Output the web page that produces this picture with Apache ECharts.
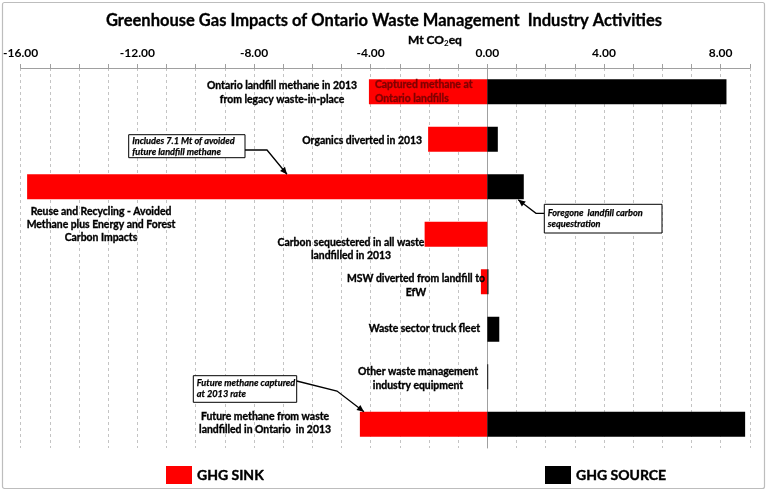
<!DOCTYPE html>
<html><head><meta charset="utf-8">
<script src="https://cdn.jsdelivr.net/npm/echarts@6/dist/echarts.min.js"></script>
<style>html,body{margin:0;padding:0;background:#fff}#c{width:768px;height:492px}</style>
</head><body><div id="c"></div>
<script>
// ---- data ----
const categories = [
  'Ontario landfill methane in 2013\nfrom legacy waste-in-place',
  'Organics diverted in 2013',
  'Reuse and Recycling - Avoided\nMethane plus Energy and Forest\nCarbon Impacts',
  'Carbon sequestered in all waste\nlandfilled in 2013',
  'MSW diverted from landfill to\nEfW',
  'Waste sector truck fleet',
  'Other waste management\nindustry equipment',
  'Future methane from waste\nlandfilled in Ontario  in 2013'
];
const sinkValues   = [-4.06, -2.03, -15.78, -2.15, -0.22, 0, 0, -4.37];
const sourceValues = [8.20, 0.36, 1.25, 0, 0.04, 0.41, 0.03, 8.84];
const majorTicks   = [-16, -12, -8, -4, 0, 4, 8];
const sinkName = 'GHG SINK';
const sourceName = 'GHG SOURCE';
const titleText = 'Greenhouse Gas Impacts of Ontario Waste Management  Industry Activities';
const capturedLabel = 'Captured methane at\nOntario landfills';
const callouts = [
  'Includes 7.1 Mt of avoided\nfuture landfill methane',
  'Foregone  landfill carbon\nsequestration',
  'Future methane captured\nat 2013 rate'
];

// ---- layout (annotation placement) ----
const labelLayout = [
  {x: 282, dy: 1, align: 'center'},
  {x: 422, dy: 1, align: 'right'},
  {x: 101, dy: 38, align: 'center'},
  {x: 351, dy: 15, align: 'center'},
  {x: 416, dy: 4, align: 'center'},
  {x: 480, dy: -1, align: 'right'},
  {x: 418, dy: 2, align: 'center'},
  {x: 265, dy: -1, align: 'center'}
];
const FONT = 'Lato, "Noto Sans", sans-serif';
const legendText = {fontFamily: FONT, fontWeight: 'bold', fontSize: 14, color: '#000',
  textBorderColor: '#000', textBorderWidth: 0.4};

const chart = echarts.init(document.getElementById('c'), null, {renderer: 'canvas'});
chart.setOption({
  animation: false,
  backgroundColor: '#ffffff',
  title: {
    text: titleText, left: 'center', top: 7,
    textStyle: {fontFamily: FONT, fontWeight: 'bold', fontSize: 16.5, color: '#000',
      textBorderColor: '#000', textBorderWidth: 0.3}
  },
  legend: [
    {data: [sinkName], left: 161, top: 461, itemWidth: 26, itemHeight: 18, icon: 'rect',
     selectedMode: false, itemGap: 5, textStyle: legendText},
    {data: [sourceName], left: 540, top: 461, itemWidth: 26, itemHeight: 18, icon: 'rect',
     selectedMode: false, itemGap: 5, textStyle: legendText}
  ],
  grid: {left: 20.7, right: 18.2, top: 68, bottom: 44, containLabel: false},
  xAxis: {
    type: 'value', position: 'top', min: -16, max: 9, interval: 1,
    axisLine: {show: true, lineStyle: {color: '#a0a0a0', width: 1}},
    axisTick: {show: true, length: 4, lineStyle: {color: '#a0a0a0'}},
    axisLabel: {
      margin: 9, fontFamily: FONT, fontWeight: 'bold', fontSize: 12, color: '#000',
      formatter: v => majorTicks.indexOf(v) >= 0 ? v.toFixed(2) : ''
    },
    splitLine: {show: true, lineStyle: {color: '#c4c4c4', type: [3, 3], width: 1}}
  },
  yAxis: {
    type: 'category', data: categories, inverse: true,
    axisLine: {show: true, onZero: true, lineStyle: {color: '#a0a0a0', width: 1}},
    axisTick: {show: false}, axisLabel: {show: false}, splitLine: {show: false}
  },
  series: [
    {name: sinkName, type: 'bar', stack: 'total', data: sinkValues, barWidth: 25,
     itemStyle: {color: '#ff0000'}, silent: true},
    {name: sourceName, type: 'bar', stack: 'total', data: sourceValues, barWidth: 25,
     itemStyle: {color: '#000000'}, silent: true}
  ]
});

// ---- annotations ----
function yOf(i) { return chart.convertToPixel({yAxisIndex: 0}, categories[i]); }
function xOf(v) { return chart.convertToPixel({xAxisIndex: 0}, v); }

const g = [];
// outer frame
g.push({type: 'rect', shape: {x: 2.5, y: 2.5, width: 762, height: 486, r: 2},
  style: {fill: 'none', stroke: '#bdbdbd', lineWidth: 1.2}, z: 100});
// axis unit
g.push({type: 'text', x: 408, y: 40, style: {
  text: '{a|Mt CO}{s|2}{a|eq}', verticalAlign: 'middle',
  rich: {a: {fontFamily: FONT, fontWeight: 'bold', fontSize: 12, fill: '#000', stroke: '#000', lineWidth: 0.35},
         s: {fontFamily: FONT, fontWeight: 'bold', fontSize: 8, fill: '#000', padding: [7, 0, 0, 0]}}
}, z: 100});
// category labels
categories.forEach((c, i) => {
  const L = labelLayout[i];
  g.push({type: 'text', x: L.x, y: yOf(i) + L.dy, style: {
    text: c, align: L.align, verticalAlign: 'middle',
    fontFamily: FONT, fontWeight: 'bold', fontSize: 10.4, lineHeight: 13.3, fill: '#000',
    stroke: '#000', lineWidth: 0.35
  }, z: 100});
});
// inside label on captured methane bar
g.push({type: 'text', x: xOf(sinkValues[0]) + 6, y: yOf(0), style: {
  text: capturedLabel, align: 'left', verticalAlign: 'middle',
  fontFamily: FONT, fontWeight: 'bold', fontSize: 10.4, lineHeight: 13.3, fill: '#800000',
  stroke: '#800000', lineWidth: 0.35
}, z: 100});

function callout(x, y, w, h, text) {
  g.push({type: 'rect', shape: {x: x, y: y, width: w, height: h},
    style: {fill: '#fff', stroke: '#000', lineWidth: 1}, z: 110});
  g.push({type: 'text', x: x + 3.5, y: y + h / 2, style: {
    text: text, align: 'left', verticalAlign: 'middle',
    fontFamily: FONT, fontStyle: 'italic', fontWeight: 'bold', fontSize: 9.2, lineHeight: 11, fill: '#000',
    stroke: '#000', lineWidth: 0.25
  }, z: 111});
}
function arrow(pts) {
  g.push({type: 'polyline', shape: {points: pts},
    style: {stroke: '#000', lineWidth: 1.3, fill: 'none'}, z: 105});
  const a = pts[pts.length - 2], b = pts[pts.length - 1];
  const dx = b[0] - a[0], dy = b[1] - a[1], L = Math.hypot(dx, dy);
  const ux = dx / L, uy = dy / L, hl = 7, hw = 3.2;
  const bx = b[0] - ux * hl, by = b[1] - uy * hl;
  g.push({type: 'polygon', shape: {points: [b, [bx - uy * hw, by + ux * hw], [bx + uy * hw, by - ux * hw]]},
    style: {fill: '#000'}, z: 106});
}
// callout 1 -> reuse & recycling bar top
const r2top = yOf(2) - 12.5;
arrow([[245, 150], [267, 150], [xOf(-6.87), r2top]]);
callout(128.7, 134.7, 116.3, 23, callouts[0]);
// callout 2 -> reuse black bar bottom
const r2bot = yOf(2) + 12.5;
arrow([[544.3, 213.3], [536, 213.3], [xOf(1.06), r2bot + 0.5]]);
callout(544.3, 204.3, 117.7, 28.7, callouts[1]);
// callout 3 -> future methane red bar top
const r7top = yOf(7) - 12.5;
arrow([[296.7, 381], [337, 391], [xOf(-4.23), r7top]]);
callout(193.3, 375.7, 103.4, 26.6, callouts[2]);

chart.setOption({graphic: g});
</script></body></html>
